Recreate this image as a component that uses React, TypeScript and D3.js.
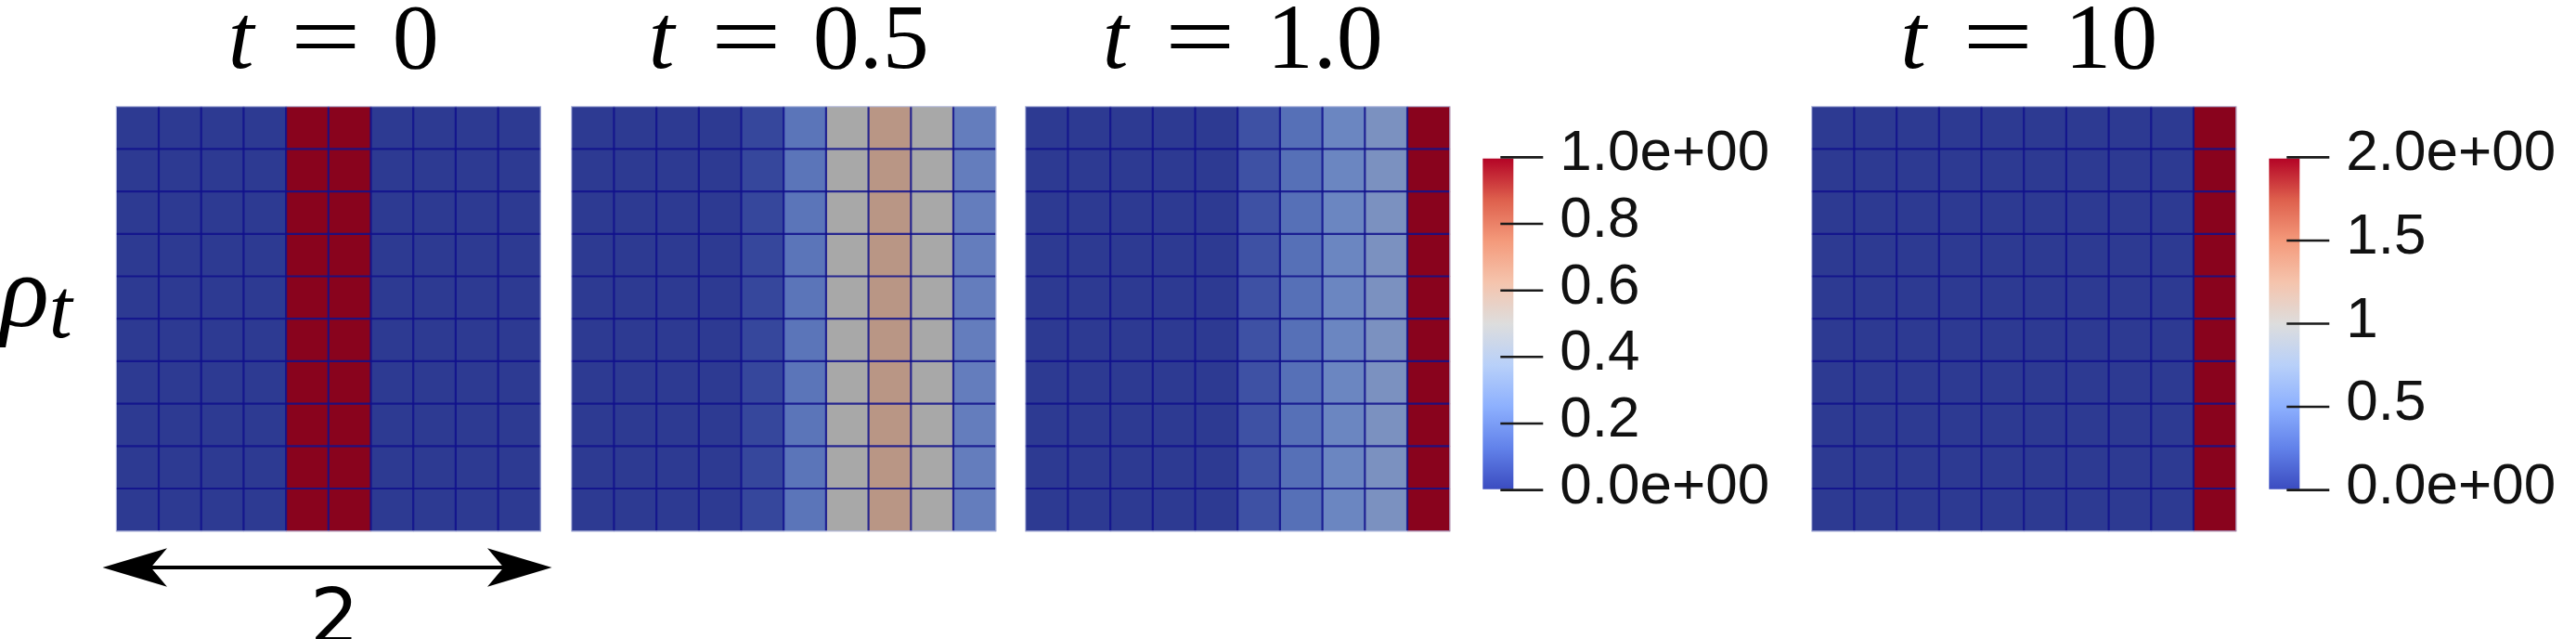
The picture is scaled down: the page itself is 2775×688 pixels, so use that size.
import React from "react";
import * as d3 from "d3";

// ---- data ----
const timeLabels = ["0", "0.5", "1.0", "10"];
const cellRows = [0, 1, 2, 3, 4, 5, 6, 7, 8, 9];
const cellCols = [0, 1, 2, 3, 4, 5, 6, 7, 8, 9];
const rhoT0 = [0, 0, 0, 0, 1, 1, 0, 0, 0, 0];
const rhoT05 = [0, 0, 0, 0, 0.04, 0.19, 0.5, 0.62, 0.5, 0.22];
const rhoT1 = [0, 0, 0, 0, 0, 0.07, 0.17, 0.25, 0.31, 1.0];
const rhoT10 = [0, 0, 0, 0, 0, 0, 0, 0, 0, 2.0];
const panelMax = [1, 1, 1, 2];
const coolWarmStops = [0, 0.125, 0.25, 0.375, 0.5, 0.625, 0.75, 0.875, 1];
const coolWarmColors = [
  "#3b4cc0", "#6282ea", "#8db0fe", "#b8d0f9", "#dddddd",
  "#f5c4ad", "#f49a7b", "#de604d", "#b40426",
];
const ticks1 = [0, 0.2, 0.4, 0.6, 0.8, 1];
const tickLabels1 = ["0.0e+00", "0.2", "0.4", "0.6", "0.8", "1.0e+00"];
const ticks2 = [0, 0.5, 1, 1.5, 2];
const tickLabels2 = ["0.0e+00", "0.5", "1", "1.5", "2.0e+00"];
const lengthLabel = "2";

const series = [rhoT0, rhoT05, rhoT1, rhoT10];

// ---- layout ----
const W = 2775;
const H = 688;
const panelLefts = [125.3, 615.7, 1104.7, 1951.7];
const panelTop = 114.7;
const panelSize = 457;
const shade = 0.76;

const coolWarm = d3
  .scaleLinear<string>()
  .domain(coolWarmStops)
  .range(coolWarmColors)
  .interpolate(d3.interpolateRgb)
  .clamp(true);

function cellColor(v: number, max: number) {
  const c = d3.rgb(coolWarm(v / max));
  return d3.rgb(c.r * shade, c.g * shade, c.b * shade).formatHex();
}

function Panel({ idx }: { idx: number }) {
  const left = panelLefts[idx];
  const x = d3.scaleBand<number>().domain(cellCols).range([left, left + panelSize]);
  const y = d3.scaleBand<number>().domain(cellRows).range([panelTop, panelTop + panelSize]);
  const vals = series[idx];
  const max = panelMax[idx];
  const bw = x.bandwidth();
  const bh = y.bandwidth();
  return (
    <g>
      {cellRows.map((r) =>
        cellCols.map((c) => (
          <rect
            key={`${r}-${c}`}
            x={x(c)}
            y={y(r)}
            width={bw + 0.5}
            height={bh + 0.5}
            fill={cellColor(vals[c], max)}
          />
        ))
      )}
      {cellCols.slice(1).map((c) => (
        <line
          key={`v${c}`}
          x1={x(c)}
          x2={x(c)}
          y1={panelTop}
          y2={panelTop + panelSize}
          stroke="#10108c"
          strokeOpacity={0.85}
          strokeWidth={2.2}
        />
      ))}
      {cellRows.slice(1).map((r) => (
        <line
          key={`h${r}`}
          x1={left}
          x2={left + panelSize}
          y1={y(r)}
          y2={y(r)}
          stroke="#10108c"
          strokeOpacity={0.85}
          strokeWidth={2.2}
        />
      ))}
      <rect
        x={left}
        y={panelTop}
        width={panelSize}
        height={panelSize}
        fill="none"
        stroke="#b4bae0"
        strokeOpacity={0.7}
        strokeWidth={1.4}
      />
    </g>
  );
}

function Title({ idx }: { idx: number }) {
  const label = timeLabels[idx];
  const cx = panelLefts[idx] + panelSize / 2 + 6;
  const fs = 100;
  let valueW = -5;
  for (const ch of label) valueW += ch === "." ? fs * 0.25 : fs * 0.5;
  const total = 177 + valueW;
  const L = cx - total / 2;
  const base = 73;
  const font = "'Liberation Serif', 'Times New Roman', serif";
  return (
    <g fill="#000" fontFamily={font} fontSize={fs}>
      <text x={L - 3} y={base} fontStyle="italic">t</text>
      <text x={L + 64} y={base} textLength={76} lengthAdjust="spacingAndGlyphs">=</text>
      <text x={L + 174} y={base}>{label}</text>
    </g>
  );
}

function ColorBar({ barLeft, max, ticks, labels, gid }: { barLeft: number; max: number; ticks: number[]; labels: string[]; gid: string }) {
  const yTop = 170.7;
  const yBot = 526.7;
  const ys = d3.scaleLinear().domain([0, max]).range([527.6, 169.4]);
  return (
    <g>
      <defs>
        <linearGradient id={gid} x1="0" y1="1" x2="0" y2="0">
          {coolWarmStops.map((s, i) => (
            <stop key={i} offset={s} stopColor={coolWarmColors[i]} />
          ))}
        </linearGradient>
      </defs>
      <rect x={barLeft} y={yTop} width={33} height={yBot - yTop} fill={`url(#${gid})`} />
      {ticks.map((t, i) => (
        <g key={i}>
          <line x1={barLeft + 19} x2={barLeft + 65} y1={ys(t)} y2={ys(t)} stroke="#1a1a1a" strokeWidth={2.6} />
          <text
            x={barLeft + 83}
            y={ys(t) + 14}
            fontFamily="'Liberation Sans', Arial, sans-serif"
            fontSize={62}
            fill="#111"
          >
            {labels[i]}
          </text>
        </g>
      ))}
    </g>
  );
}

function Arrow() {
  const x0 = panelLefts[0] - 14.8;
  const x1 = panelLefts[0] + panelSize + 12.2;
  const y = 611;
  const back = 69.5;
  const half = 20.7;
  const notch = 52;
  const head = (tip: number, dir: number) => {
    const p = d3.path();
    p.moveTo(tip, y);
    p.lineTo(tip + dir * back, y - half);
    p.lineTo(tip + dir * notch, y);
    p.lineTo(tip + dir * back, y + half);
    p.closePath();
    return p.toString();
  };
  return (
    <g>
      <line x1={x0 + notch - 2} x2={x1 - notch + 2} y1={y} y2={y} stroke="#000" strokeWidth={4.2} />
      <path d={head(x0, 1)} fill="#000" />
      <path d={head(x1, -1)} fill="#000" />
      <text
        x={(x0 + x1) / 2 + 8}
        y={693}
        textAnchor="middle"
        fontFamily="'DejaVu Sans', sans-serif"
        fontSize={83}
        fill="#000"
      >
        {lengthLabel}
      </text>
    </g>
  );
}

export default function App() {
  const cb1Left = panelLefts[2] + panelSize + 35.6;
  const cb2Left = panelLefts[3] + panelSize + 35.6;
  return (
    <svg
      width={W}
      height={H}
      viewBox={`0 0 ${W} ${H}`}
      style={{ position: "absolute", left: 0, top: 0, background: "#fff" }}
    >
      <rect x={0} y={0} width={W} height={H} fill="#fff" />
      {series.map((_, i) => (
        <Panel key={i} idx={i} />
      ))}
      {series.map((_, i) => (
        <Title key={`t${i}`} idx={i} />
      ))}
      <text
        x={0}
        y={351}
        fontFamily="'Liberation Serif', 'Times New Roman', serif"
        fontStyle="italic"
        fontSize={110}
        fill="#000"
      >
        ρ<tspan fontSize={90} dy={12}>t</tspan>
      </text>
      <ColorBar barLeft={cb1Left} max={panelMax[2]} ticks={ticks1} labels={tickLabels1} gid="cw1" />
      <ColorBar barLeft={cb2Left} max={panelMax[3]} ticks={ticks2} labels={tickLabels2} gid="cw2" />
      <Arrow />
    </svg>
  );
}
